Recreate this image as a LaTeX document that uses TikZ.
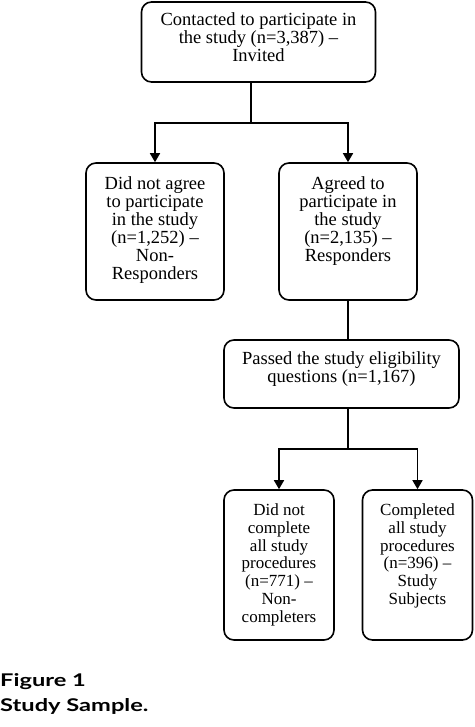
\documentclass[tikz,border=0pt]{standalone}
\usepackage{fontspec}
\setmainfont{Liberation Serif}
\newfontfamily\capfont[FakeStretch=1.35]{Lato}
\usetikzlibrary{arrows.meta}
\begin{document}
\begin{tikzpicture}[x=1pt,y=-1pt,
  box/.style={draw, line width=1.6pt, rounded corners=10pt, inner sep=0pt},
  txt/.style={anchor=north, align=center, inner sep=0pt, font=\fontsize{18.5}{17.9}\selectfont},
  smalltxt/.style={txt, font=\fontsize{17}{17.8}\selectfont},
  conn/.style={line width=1.6pt},
  arr/.style={conn, -{Triangle[width=10pt,length=9pt]}},
  captxt/.style={anchor=base west, inner sep=0pt, font=\capfont\bfseries\fontsize{17.5}{17.5}\selectfont}]
\useasboundingbox (0,0) rectangle (474,727);
% boxes
\node[box, minimum width=234pt, minimum height=80pt] (b1) at (258.5,42) {};
\node[box, minimum width=138pt, minimum height=137pt] (b2) at (155,231.5) {};
\node[box, minimum width=138pt, minimum height=137pt] (b3) at (348,231.5) {};
\node[box, minimum width=235pt, minimum height=68pt] (b4) at (341.5,374) {};
\node[box, minimum width=110pt, minimum height=150pt] (b5) at (279,565) {};
\node[box, minimum width=110pt, minimum height=150pt] (b6) at (417.5,565) {};
% texts
\node[txt] (t1) at (258.5,12.4) {Contacted to participate in\\the study (n=3,387) --\\Invited};
\node[txt] (t2) at (155,176.7) {Did not agree\\to participate\\in the study\\(n=1,252) --\\Non-\\Responders};
\node[txt] (t3) at (348,176.7) {Agreed to\\participate in\\the study\\(n=2,135) --\\Responders};
\node[txt] (t4) at (341.5,351.4) {Passed the study eligibility\\questions (n=1,167)};
\node[smalltxt] (t5) at (279,503.4) {Did not\\complete\\all study\\procedures\\(n=771) --\\Non-\\completers};
\node[smalltxt] (t6) at (417.5,503.4) {Completed\\all study\\procedures\\(n=396) --\\Study\\Subjects};
% connectors
\coordinate (j1) at (251,123);
\coordinate (j2) at (348,449);
\draw[conn] (b1.south -| j1) -- (j1);
\draw[arr] (j1) -| (b2.north);
\draw[arr] (j1) -| (b3.north);
\draw[conn] (b3.south) -- (b3.south |- b4.north);
\draw[conn] (b3.south |- b4.south) -- (j2);
\draw[arr] (j2) -| (b5.north);
\draw[arr] (j2) -| (b6.north);
% caption
\node[captxt] (c1) at (0,686) {Figure 1};
\node[captxt] (c2) at (0,711) {Study Sample.};
\end{tikzpicture}
\end{document}
